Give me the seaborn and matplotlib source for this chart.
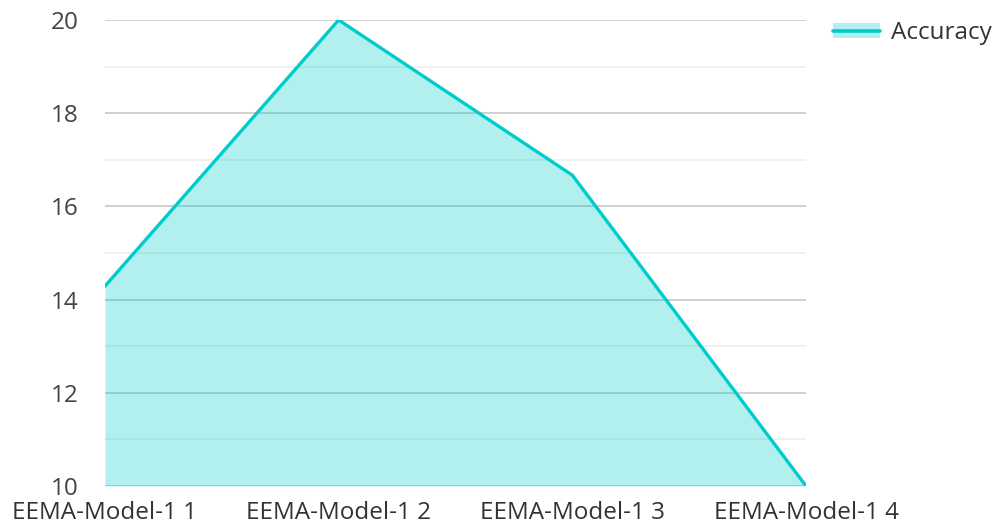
import matplotlib
matplotlib.use("Agg")
import matplotlib.pyplot as plt
import seaborn as sns
import pandas as pd
from matplotlib.lines import Line2D
from matplotlib.patches import Patch
from matplotlib.ticker import MultipleLocator

models = ["EEMA-Model-1 1", "EEMA-Model-1 2", "EEMA-Model-1 3", "EEMA-Model-1 4"]
accuracy = [14.29, 20.0, 16.67, 10.0]
y_ticks = [10, 12, 14, 16, 18, 20]

teal = "#00cccc"

sns.set_style("white")
plt.rcParams['font.family'] = ['Open Sans', 'DejaVu Sans']

df = pd.DataFrame({"model": models, "accuracy": accuracy, "pos": range(len(models))})

fig = plt.figure(figsize=(9.97, 5.26), dpi=100)
ax = fig.add_axes([105 / 997, 1 - 486 / 526, (806 - 105) / 997, (486 - 20) / 526])

# area under the line, grid stays visible through it
ax.fill_between(df["pos"], df["accuracy"], 10, color=teal, alpha=0.3, linewidth=0, zorder=2)
sns.lineplot(data=df, x="pos", y="accuracy", color=teal, linewidth=2.4, ax=ax, zorder=3)

ax.set_xlim(0, len(models) - 1)
ax.set_ylim(10, 20)
ax.set_xticks(df["pos"])
ax.set_xticklabels(models)
ax.set_yticks(y_ticks)
ax.yaxis.set_minor_locator(MultipleLocator(1))
ax.grid(which="major", axis="y", color="#c8c8c8", linewidth=1.2, zorder=1)
ax.grid(which="minor", axis="y", color="#eeeeee", linewidth=1.2, zorder=1)
ax.set_axisbelow(True)
ax.set_xlabel("")
ax.set_ylabel("")
for s in ax.spines.values():
    s.set_visible(False)

ax.tick_params(axis="y", which="both", length=0, pad=19, labelsize=17.5, labelcolor="#444444")
ax.tick_params(axis="x", which="both", length=0, pad=11, labelsize=17.5, labelcolor="#333333")

handle = (Patch(facecolor=teal, alpha=0.3, edgecolor="none"), Line2D([], [], color=teal, linewidth=2.6))
fig.legend([handle], ["Accuracy"], loc="center left", bbox_to_anchor=(833 / 997, 1 - 33 / 526),
           frameon=False, borderpad=0, borderaxespad=0, handlelength=1.95, handleheight=0.6,
           handletextpad=0.45, fontsize=17.5, labelcolor="#333333")

fig.savefig("out.png", dpi=100)
